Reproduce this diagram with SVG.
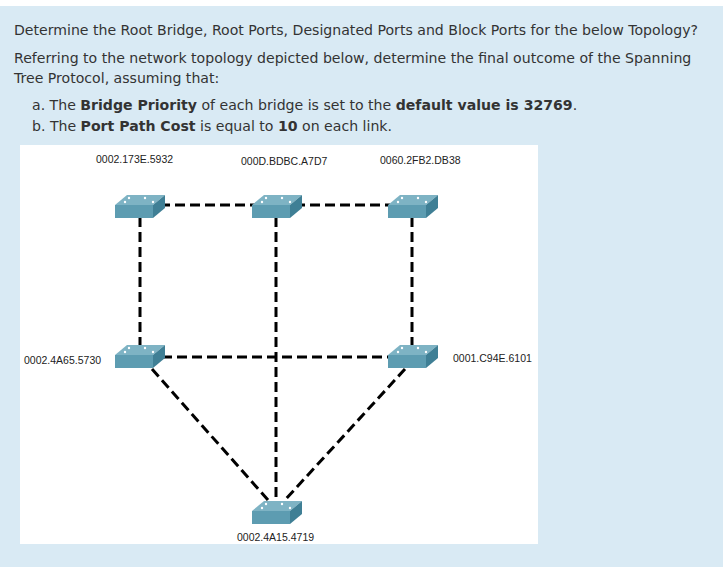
<svg xmlns="http://www.w3.org/2000/svg" xmlns:xlink="http://www.w3.org/1999/xlink" width="723" height="567" viewBox="0 0 723 567">
<style>
.t{font-family:"DejaVu Sans",Verdana,sans-serif;font-size:14.1px;fill:#333}
.l{font-family:"Liberation Sans",Arial,sans-serif;font-size:10.5px;fill:#222}
.c{stroke:#000;stroke-width:3;stroke-dasharray:10 5;fill:none}
</style>
<defs>
<g id="sw">
<polygon points="0,0 12,-10 50,-10 38,0" fill="#7eb3c4"/>
<rect x="0" y="0" width="38" height="13" fill="#5d9cb1"/>
<polygon points="38,0 50,-10 50,3 38,13" fill="#3f7f95"/>
<circle cx="14" cy="-7" r="1.2" fill="#fff"/><circle cx="30" cy="-7" r="1.2" fill="#fff"/>
<circle cx="10" cy="-3" r="1.2" fill="#fff"/><circle cx="38" cy="-3" r="1.2" fill="#fff"/>
</g>
</defs>
<rect width="723" height="567" fill="#d9eaf4"/>
<rect width="723" height="6" fill="#fff"/>
<text class="t" x="14" y="35">Determine the Root Bridge, Root Ports, Designated Ports and Block Ports for the below Topology?</text>
<text class="t" x="14" y="63">Referring to the network topology depicted below, determine the final outcome of the Spanning</text>
<text class="t" x="14" y="83">Tree Protocol, assuming that:</text>
<text class="t" x="32" y="110">a. The <tspan font-weight="bold">Bridge Priority</tspan> of each bridge is set to the <tspan font-weight="bold">default value is 32769</tspan>.</text>
<text class="t" x="32" y="131">b. The <tspan font-weight="bold">Port Path Cost</tspan> is equal to <tspan font-weight="bold">10</tspan> on each link.</text>
<rect x="20" y="145" width="518" height="399" fill="#fff"/>
<g id="connectors">
<line class="c" x1="160" y1="205" x2="390" y2="205"/>
<line class="c" x1="140" y1="217" x2="140" y2="345"/>
<line class="c" x1="276" y1="217" x2="276" y2="502"/>
<line class="c" x1="412" y1="217" x2="412" y2="345"/>
<line class="c" x1="162" y1="357" x2="390" y2="357"/>
<line class="c" x1="152" y1="369" x2="268" y2="500"/>
<line class="c" x1="405" y1="369" x2="285" y2="500"/>
</g>
<g id="n1"><use xlink:href="#sw" x="115" y="205"/><text class="l" x="96" y="163">0002.173E.5932</text></g>
<g id="n2"><use xlink:href="#sw" x="252" y="205"/><text class="l" x="241" y="165">000D.BDBC.A7D7</text></g>
<g id="n3"><use xlink:href="#sw" x="388" y="205"/><text class="l" x="380" y="164">0060.2FB2.DB38</text></g>
<g id="n4"><use xlink:href="#sw" x="115" y="355"/><text class="l" x="24" y="364">0002.4A65.5730</text></g>
<g id="n5"><use xlink:href="#sw" x="388" y="355"/><text class="l" x="453" y="362">0001.C94E.6101</text></g>
<g id="n6"><use xlink:href="#sw" x="252" y="511"/><text class="l" x="237" y="541">0002.4A15.4719</text></g>
</svg>
